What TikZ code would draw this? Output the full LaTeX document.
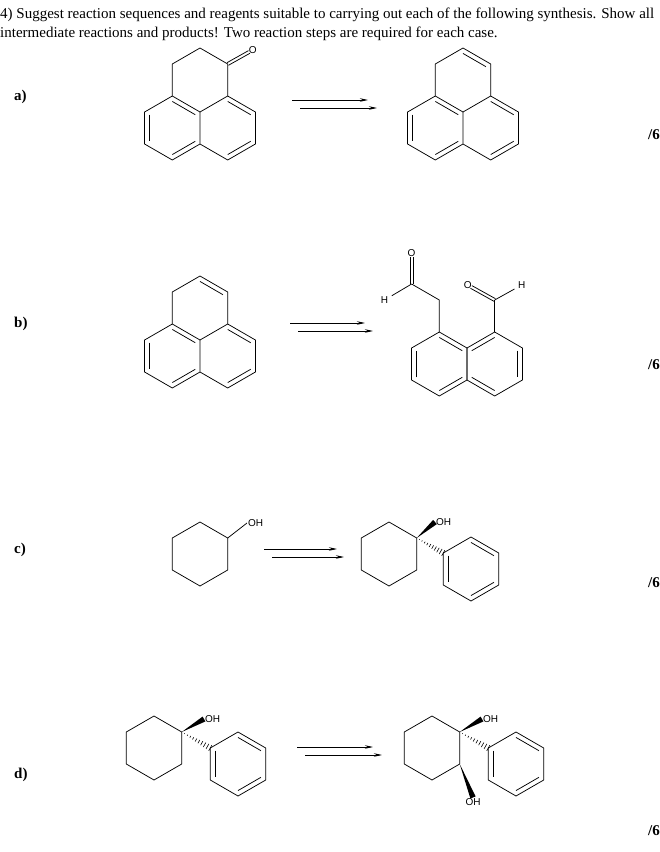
\documentclass[tikz,border=0pt]{standalone}
\usepackage{fontspec}
\setmainfont{Liberation Serif}
\newfontfamily\atomfont{Liberation Sans}
\usetikzlibrary{calc,arrows.meta}
\newcommand\hexring[3]{%
 \coordinate (#1a) at ($(#2)+(-90:#3)$);
 \coordinate (#1b) at ($(#2)+(-30:#3)$);
 \coordinate (#1c) at ($(#2)+(30:#3)$);
 \coordinate (#1d) at ($(#2)+(90:#3)$);
 \coordinate (#1e) at ($(#2)+(150:#3)$);
 \coordinate (#1f) at ($(#2)+(210:#3)$);
 \coordinate (#1o) at (#2);
 \draw[bond] (#1a)--(#1b)--(#1c)--(#1d)--(#1e)--(#1f)--cycle;}
\newcommand\inb[3]{\draw[bond] ($(#1)!0.17!(#3)$)--($(#2)!0.17!(#3)$);}
\newcommand\hashb[2]{\foreach \t in {0.1,0.2,...,1.0}{\pgfmathsetmacro\w{\t*3.2}
 \draw[line width=0.6pt] ($(#1)!\t!(#2)!\w pt!90:(#2)$)--($(#1)!\t!(#2)!\w pt!-90:(#2)$);}}
\newcommand\wedgeb[2]{\fill ($(#1)$)--($(#2)!2.8pt!90:(#1)$)--($(#2)!2.8pt!-90:(#1)$)--cycle;}
\newcommand\dblo[2]{%
 \draw[bond,shorten >=4pt] ($(#1)!1.5pt!90:(#2)$)--($(#2)!1.5pt!-90:(#1)$);
 \draw[bond,shorten >=4pt] ($(#1)!1.5pt!-90:(#2)$)--($(#2)!1.5pt!90:(#1)$);}
\newcommand\phen[2]{%
 \coordinate (#1c0) at (#2);
 \coordinate (#1p1) at ($(#2)+(-27.7,-16)$); \coordinate (#1p2) at ($(#2)+(27.7,-16)$);
 \coordinate (#1p3) at ($(#2)+(0,32)$);
 \coordinate (#1t1) at ($(#2)+(-27.7,-48)$); \coordinate (#1t2) at ($(#2)+(0,-64)$);
 \coordinate (#1t3) at ($(#2)+(27.7,-48)$);
 \coordinate (#1l1) at ($(#2)+(-55.4,0)$); \coordinate (#1l2) at ($(#2)+(-55.4,32)$);
 \coordinate (#1l3) at ($(#2)+(-27.7,48)$);
 \coordinate (#1r1) at ($(#2)+(55.4,0)$); \coordinate (#1r2) at ($(#2)+(55.4,32)$);
 \coordinate (#1r3) at ($(#2)+(27.7,48)$);
 \coordinate (#1LC) at ($(#2)+(-27.7,16)$); \coordinate (#1RC) at ($(#2)+(27.7,16)$);
 \coordinate (#1TC) at ($(#2)+(0,-32)$);
 \draw[bond] (#1c0)--(#1p1) (#1c0)--(#1p2) (#1c0)--(#1p3)
  (#1p1)--(#1t1)--(#1t2)--(#1t3)--(#1p2)
  (#1p1)--(#1l1)--(#1l2)--(#1l3)--(#1p3)--(#1r3)--(#1r2)--(#1r1)--(#1p2);
 \inb{#1p1}{#1c0}{#1LC}\inb{#1l1}{#1l2}{#1LC}\inb{#1l3}{#1p3}{#1LC}
 \inb{#1p2}{#1r1}{#1RC}\inb{#1r2}{#1r3}{#1RC}}
\begin{document}
\begin{tikzpicture}[x=1pt,y=-1pt,
 bond/.style={line width=0.75pt,line join=round},
 rarrow/.style={line width=0.75pt,-{Stealth[length=8pt,width=3.5pt]}},
 atom/.style={font=\atomfont\fontsize{10}{10}\selectfont,inner sep=0.8pt},
 hdr/.style={anchor=base west,inner sep=0,font=\fontsize{15}{17}\selectfont},
 lab/.style={anchor=base west,inner sep=0,font=\bfseries\fontsize{15}{17}\selectfont},
 pts/.style={anchor=base east,inner sep=0,font=\bfseries\fontsize{15}{17}\selectfont}]
\useasboundingbox (0,0) rectangle (660,852);
\node[hdr] (h1) at (0,18) {4) Suggest reaction sequences and reagents suitable to carrying out each of the following synthesis. Show all};
\node[hdr] (h2) at (0,37) {intermediate reactions and products! Two reaction steps are required for each case.};
\node[lab] (la) at (14,100) {a)};
\node[lab] (lb) at (14,327) {b)};
\node[lab] (lc) at (14,553) {c)};
\node[lab] (ld) at (14,778) {d)};
\node[pts] (pa) at (660,139) {/6};
\node[pts] (pb) at (660,369) {/6};
\node[pts] (pc) at (660,587) {/6};
\node[pts] (pd) at (660,835) {/6};
% a left
\phen{A}{200,112}
\node[atom] (AO) at ($(At3)+(25,-14)$) {O};
\dblo{At3}{AO}
\coordinate (a1s) at (292,100); \coordinate (a1e) at (368,100);
\coordinate (a2s) at (300,108); \coordinate (a2e) at (377,108);
\draw[rarrow] (a1s)--(a1e); \draw[rarrow] (a2s)--(a2e);
% a right
\phen{B}{463,112}
\inb{Bt2}{Bt3}{BTC}
% b left
\phen{C}{200,340}
\inb{Ct2}{Ct3}{CTC}
\coordinate (b1s) at (290,323); \coordinate (b1e) at (365,323);
\coordinate (b2s) at (298,331); \coordinate (b2e) at (373,331);
\draw[rarrow] (b1s)--(b1e); \draw[rarrow] (b2s)--(b2e);
% b right naphthalene
\hexring{L}{439.3,364}{32}
\hexring{R}{494.7,364}{32}
\inb{La}{Lb}{Lo}\inb{Le}{Lf}{Lo}\inb{Lc}{Ld}{Lo}
\inb{Ra}{Rf}{Ro}\inb{Rb}{Rc}{Ro}\inb{Rd}{Re}{Ro}
\coordinate (m1) at ($(La)+(0,-32)$);
\coordinate (m2) at ($(m1)+(-27.7,-16)$);
\node[atom] (mO) at ($(m2)+(0,-31)$) {O};
\node[atom] (mH) at ($(m2)+(-27,16)$) {H};
\draw[bond] (La)--(m1)--(m2);
\draw[bond,shorten >=3pt] (m2)--(mH);
\dblo{m2}{mO}
\coordinate (n1) at ($(Ra)+(0,-32)$);
\node[atom] (nO) at ($(n1)+(-27,-15)$) {O};
\node[atom] (nH) at ($(n1)+(27,-15)$) {H};
\draw[bond] (Ra)--(n1);
\draw[bond,shorten >=3pt] (n1)--(nH);
\dblo{n1}{nO}
% c left
\hexring{P}{200,554}{32}
\node[atom,anchor=west] (POH) at (247,523) {OH};
\draw[bond] (Pb)--(POH.west);
\coordinate (c1s) at (264,549); \coordinate (c1e) at (337,549);
\coordinate (c2s) at (272,557); \coordinate (c2e) at (344,557);
\draw[rarrow] (c1s)--(c1e); \draw[rarrow] (c2s)--(c2e);
% c right
\hexring{Q}{389,554}{32}
\node[atom,anchor=west] (QOH) at (435,522) {OH};
\wedgeb{Qb}{QOH.west}
\hexring{S}{471,569}{32}
\hashb{Qb}{Sf}
\inb{Sf}{Se}{So}\inb{Sa}{Sb}{So}\inb{Sc}{Sd}{So}
% d left
\hexring{U}{154,748}{32}
\node[atom,anchor=west] (UOH) at (204,719) {OH};
\wedgeb{Ub}{UOH.west}
\hexring{V}{238,764}{32}
\hashb{Ub}{Vf}
\inb{Vf}{Ve}{Vo}\inb{Va}{Vb}{Vo}\inb{Vc}{Vd}{Vo}
\coordinate (d1s) at (297,747); \coordinate (d1e) at (373,747);
\coordinate (d2s) at (305,755); \coordinate (d2e) at (382,755);
\draw[rarrow] (d1s)--(d1e); \draw[rarrow] (d2s)--(d2e);
% d right
\hexring{W}{432,748}{32}
\node[atom,anchor=west] (WOH) at (482,719) {OH};
\wedgeb{Wb}{WOH.west}
\hexring{X}{516,764}{32}
\hashb{Wb}{Xf}
\inb{Xf}{Xe}{Xo}\inb{Xa}{Xb}{Xo}\inb{Xc}{Xd}{Xo}
\node[atom] (WOH2) at (473,802) {OH};
\wedgeb{Wc}{WOH2.north}
\end{tikzpicture}
\end{document}
